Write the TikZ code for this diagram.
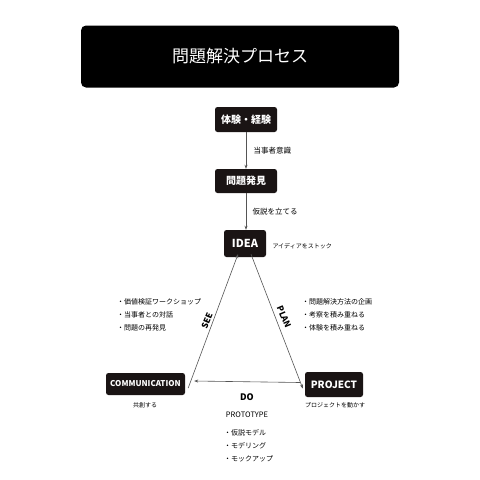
\documentclass[tikz,border=0pt]{standalone}
\usepackage{fontspec}
\setmainfont{Noto Sans CJK JP}
\usetikzlibrary{arrows.meta}
\definecolor{boxc}{HTML}{1A1414}
\definecolor{linec}{HTML}{555555}
\tikzset{
  titlebox/.style={fill=black, rounded corners=5pt, text=white, minimum width=318pt, minimum height=62pt, font=\fontsize{17}{20}\selectfont},
  stagebox/.style={fill=boxc, rounded corners=2.5pt, text=white, font=\bfseries\fontsize{10}{12}\selectfont, inner sep=0pt},
  lbl/.style={font=\fontsize{7.5}{9}\selectfont, text=black},
  small/.style={font=\fontsize{6}{7}\selectfont, text=black},
  blist/.style={font=\fontsize{7}{13}\selectfont, align=left, anchor=west, text=black, inner sep=0pt},
  conn/.style={draw=linec, line width=0.6pt, -{Stealth[length=4pt,width=3pt]}},
  side/.style={font=\bfseries\fontsize{8.5}{10}\selectfont, text=black, inner sep=0pt}
}
\begin{document}
\begin{tikzpicture}[x=1pt,y=-1pt]
\useasboundingbox[fill=white] (0,0) rectangle (480,480);
\node[titlebox] (title) at (240,56.5) {問題解決プロセス};
\node[stagebox, minimum width=62pt, minimum height=25pt] (exp) at (246,119.5) {体験・経験};
\node[stagebox, minimum width=62pt, minimum height=24pt] (find) at (246,181) {問題発見};
\node[stagebox, minimum width=42pt, minimum height=27pt, font=\bfseries\fontsize{11}{12}\selectfont] (idea) at (245,243.5) {IDEA};
\node[stagebox, minimum width=79pt, minimum height=22pt, font=\bfseries\fontsize{8}{9}\selectfont] (comm) at (145.5,384) {COMMUNICATION};
\node[stagebox, minimum width=58pt, minimum height=25pt] (proj) at (334,384.5) {PROJECT};

\draw[conn] (exp) -- (find) node[lbl, midway, anchor=west, xshift=4pt] (l1) {当事者意識};
\draw[conn] (find) -- ([xshift=1pt]idea.north) node[lbl, midway, anchor=west, xshift=3pt] (l2) {仮説を立てる};
\node[small, anchor=west] (ideal) at (269,246) {アイディアをストック};

\draw[conn] ([xshift=3pt,yshift=-4pt]comm.east) -- ([xshift=-7pt,yshift=3pt]idea.south);
\draw[conn] ([xshift=6pt,yshift=3pt]idea.south) -- ([xshift=-2pt,yshift=-4pt]proj.west);
\draw[conn] ([xshift=-5pt,yshift=2pt]proj.west) -- ([xshift=9pt,yshift=3pt]comm.east);

\node[side, rotate=67] (see) at (207,321) {SEE};
\node[side, rotate=-67] (plan) at (284,317) {PLAN};
\node[side, font=\bfseries\fontsize{9}{10}\selectfont] (do) at (247,397) {DO};

\node[blist] (lb) at (117,315) {・価値検証ワークショップ\\・当事者との対話\\・問題の再発見};
\node[blist] (rb) at (302,315) {・問題解決方法の企画\\・考察を積み重ねる\\・体験を積み重ねる};
\node[small] (commlbl) at (145,405) {共創する};
\node[small] (projlbl) at (335,405) {プロジェクトを動かす};
\node[lbl] (proto) at (247,414.5) {PROTOTYPE};
\node[blist] (db) at (224,446) {・仮説モデル\\・モデリング\\・モックアップ};
\end{tikzpicture}
\end{document}
